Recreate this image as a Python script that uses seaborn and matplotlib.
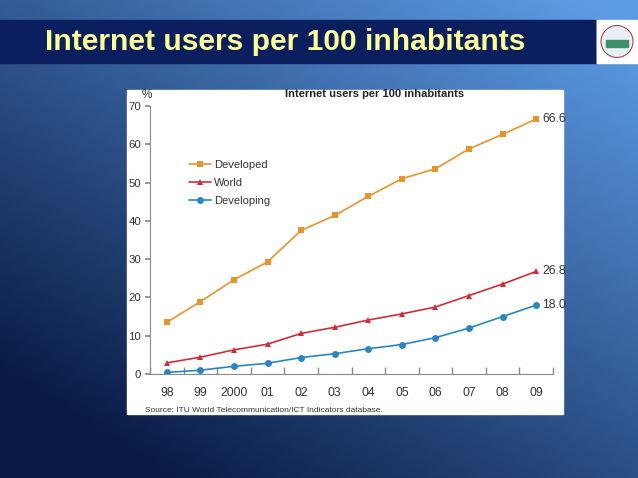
import numpy as np
import pandas as pd
import seaborn as sns
import matplotlib.pyplot as plt
from matplotlib.patches import Rectangle, Circle

# values
years = ["98", "99", "2000", "01", "02", "03", "04", "05", "06", "07", "08", "09"]
developed = [13.5, 18.9, 24.6, 29.3, 37.5, 41.4, 46.4, 51.0, 53.6, 58.8, 62.6, 66.6]
world = [2.9, 4.4, 6.3, 7.8, 10.6, 12.2, 14.1, 15.7, 17.5, 20.5, 23.5, 26.8]
developing = [0.4, 1.0, 2.0, 2.8, 4.3, 5.3, 6.6, 7.7, 9.5, 12.0, 15.0, 18.0]
series_names = ["Developed", "World", "Developing"]
colors = {"Developed": "#E8932C", "World": "#C9303A", "Developing": "#2A86C2"}
markers = {"Developed": "s", "World": "^", "Developing": "o"}

df = pd.DataFrame({
    "pos": list(range(len(years))) * 3,
    "value": developed + world + developing,
    "series": [s for s in series_names for _ in years],
})

sns.set_theme(style="ticks")
plt.rcParams["font.family"] = ["Liberation Sans", "DejaVu Sans"]

W, H = 638, 478
fig = plt.figure(figsize=(W / 100, H / 100), dpi=100)

# slide background
bg = fig.add_axes([0, 0, 1, 1], zorder=-1)
xx, yy = np.meshgrid(np.linspace(0, 1, W), np.linspace(0, 1, H))
b = np.clip(0.55 * xx + 0.65 * (1 - yy) - 0.15, 0, 1)
dark = np.array([10, 28, 70]) / 255
light = np.array([92, 155, 228]) / 255
grad = dark + (light - dark) * b[..., None]
bg.imshow(grad, extent=(0, W, H, 0), aspect="auto")
bg.add_patch(Rectangle((0, 20), 595, 43, color="#0b1f5e"))
bg.add_patch(Rectangle((597, 20), 40, 43, color="white"))
bg.add_patch(Circle((617, 41.5), 16, facecolor="#e4f0f6", edgecolor="#b04050", lw=0.8))
bg.add_patch(Rectangle((606, 40), 22, 7, color="#3f8f6a"))
bg.add_patch(Rectangle((127, 90), 436, 324, color="white"))
bg.set_xlim(0, W)
bg.set_ylim(H, 0)
bg.axis("off")

fig.text(45 / W, 1 - 42 / H, "Internet users per 100 inhabitants", color="#FFFF99",
         fontsize=21.6, fontweight="bold", ha="left", va="center")

# chart
ax = fig.add_axes([150 / W, 1 - 374 / H, 403 / W, 268 / H])
ax.set_facecolor("none")
sns.lineplot(data=df, x="pos", y="value", hue="series", style="series",
             hue_order=series_names, style_order=series_names,
             palette=colors, markers=markers, dashes=False,
             markersize=5, markeredgewidth=0, linewidth=1.2, ax=ax)

ax.set_xlim(-0.5, len(years) - 0.5)
ax.set_ylim(0, 70)
ax.set_yticks(range(0, 71, 10))
ax.set_xticks(range(len(years)))
ax.set_xticklabels(years)
ax.set_xticks(np.arange(-0.5, len(years), 1), minor=True)
ax.set_xlabel("")
ax.set_ylabel("")
for side in ["top", "right"]:
    ax.spines[side].set_visible(False)
for side in ["left", "bottom"]:
    ax.spines[side].set_color("#8a8a8a")
    ax.spines[side].set_linewidth(0.8)
ax.tick_params(axis="x", which="major", length=0, pad=9, labelsize=8.8, labelcolor="#333333")
ax.tick_params(axis="x", which="minor", direction="in", length=5, color="#8a8a8a")
ax.tick_params(axis="y", direction="out", length=3.5, color="#8a8a8a", pad=3,
               labelsize=8.2, labelcolor="#333333")

for s, vals in zip(series_names, [developed, world, developing]):
    ax.annotate(f"{vals[-1]:.1f}", xy=(len(years) - 1, vals[-1]), xytext=(4.5, 0),
                textcoords="offset points", va="center", ha="left",
                fontsize=8.7, color="#333333")

handles, labels = ax.get_legend_handles_labels()
ax.legend(handles, labels, frameon=False, loc="upper left",
          bbox_to_anchor=(189 / W, 1 - 160 / H), bbox_transform=fig.transFigure,
          borderpad=0, borderaxespad=0, handlelength=2.0, handletextpad=0.25,
          labelspacing=0.72, fontsize=8, labelcolor="#333333")

fig.text(147 / W, 1 - 95 / H, "%", ha="center", va="center", fontsize=8.5, color="#333333")
fig.text(375 / W, 1 - 94 / H, "Internet users per 100 inhabitants", ha="center", va="center",
         fontsize=8, fontweight="bold", color="#222222")
fig.text(145 / W, 1 - 410 / H, "Source: ITU World Telecommunication/ICT Indicators database.",
         ha="left", va="center", fontsize=6.0, color="#333333")

fig.savefig("out.png", dpi=100)
